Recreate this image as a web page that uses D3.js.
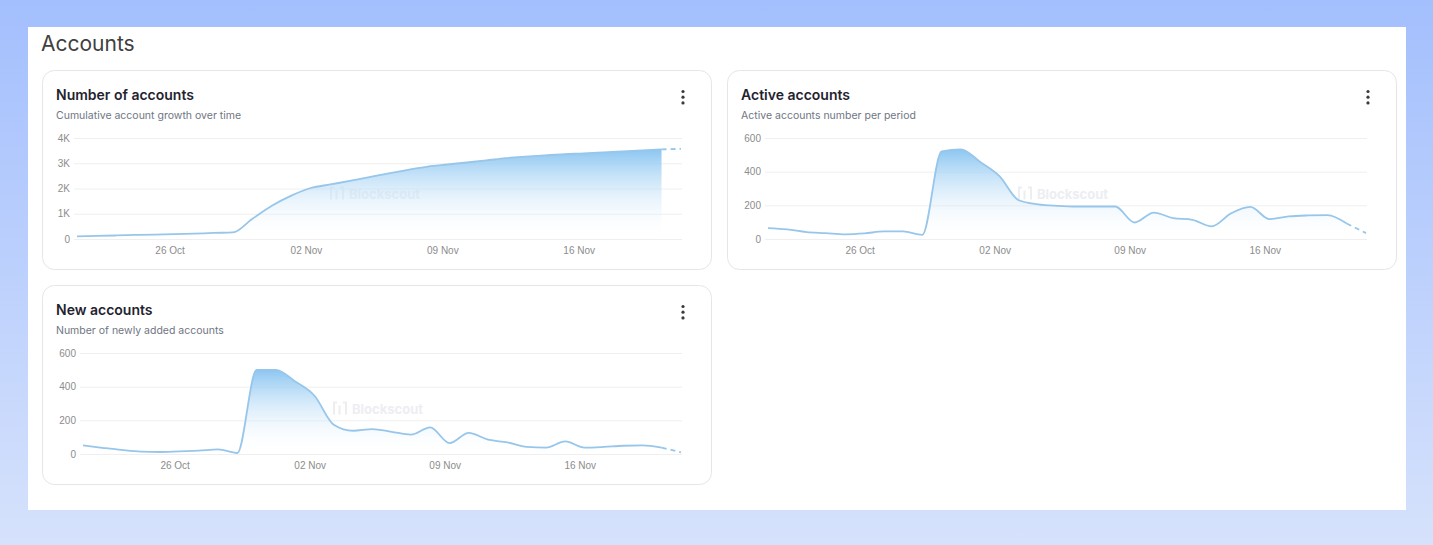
<!DOCTYPE html>
<html>
<head>
<meta charset="utf-8">
<script src="https://cdn.jsdelivr.net/npm/d3@7"></script>
<style>
  body { margin: 0; overflow: hidden; }
  text { font-family: Inter, "Noto Sans", sans-serif; }
  .axis text { font-family: "Liberation Sans", Arial, sans-serif; font-size: 10px; fill: #8c8c8c; }
</style>
</head>
<body>
<div id="chart"></div>
<script>
////////////////////  data //////////////////////////////

var dates = ["2023-10-21","2023-10-22","2023-10-23","2023-10-24","2023-10-25","2023-10-26",
  "2023-10-27","2023-10-28","2023-10-29","2023-10-30","2023-10-31","2023-11-01","2023-11-02",
  "2023-11-03","2023-11-04","2023-11-05","2023-11-06","2023-11-07","2023-11-08","2023-11-09",
  "2023-11-10","2023-11-11","2023-11-12","2023-11-13","2023-11-14","2023-11-15","2023-11-16",
  "2023-11-17","2023-11-18","2023-11-19","2023-11-20","2023-11-21"];

var totalAccounts = [100,120,140,160,175,190,210,240,260,800,1320,1720,2020,2160,2300,2450,
  2600,2740,2870,2950,3030,3110,3200,3260,3310,3360,3390,3430,3470,3510,3550,3570];

var activeAccounts = [65,57,41,35,28,33,45,45,25,520,533,458,374,230,206,197,
  193,193,193,98,157,124,114,75,152,191,118,134,140,142,92,35];

var newAccounts = [51,37,24,14,12,16,20,27,6,500,500,431,346,174,138,148,
  132,115,158,65,125,85,69,42,38,75,38,42,49,51,38,10];

var xTickDates = ["2023-10-26","2023-11-02","2023-11-09","2023-11-16"];
var countTicks = [0,1000,2000,3000,4000];
var smallTicks = [0,200,400,600];

// the source puts its daily points a few hours after midnight
var parsePoint = d3.timeParse("%Y-%m-%dT%H");
var parseDay = d3.timeParse("%Y-%m-%d");
var pointDates = dates.map(d => parsePoint(d + "T06"));
var tickDates = xTickDates.map(parseDay);

//////////////////////////////// page ////////////////////////////////////////

var svgWidth = 1433, svgHeight = 545;
var svg = d3.select("#chart").append("svg")
  .attr("width", svgWidth).attr("height", svgHeight);
var defs = svg.append("defs");

var bg = defs.append("linearGradient").attr("id", "bg")
  .attr("x1", 0).attr("y1", 0).attr("x2", 0).attr("y2", 1);
bg.append("stop").attr("offset", "0%").attr("stop-color", "#a3bffd");
bg.append("stop").attr("offset", "100%").attr("stop-color", "#d6e2fc");

svg.append("rect").attr("width", svgWidth).attr("height", svgHeight).attr("fill", "url(#bg)");
svg.append("rect").attr("x", 28).attr("y", 27).attr("width", 1378).attr("height", 483).attr("fill", "#fff");

svg.append("text")
  .attr("x", 41).attr("y", 50.5)
  .attr("font-size", 21).attr("font-weight", 400).attr("fill", "#404040")
  .text("Accounts");

//////////////////////////////// cards ////////////////////////////////////////

var cardW = 670, cardH = 200;
var plotTop = 68, plotBottom = 169, plotRightPad = 31;

var charts = [
  { id: "c1", title: "Number of accounts", sub: "Cumulative account growth over time",
    values: totalAccounts, ticks: countTicks, fmt: d => d === 0 ? "0" : (d / 1000) + "K",
    x: 42, y: 70, left: 35 },
  { id: "c2", title: "Active accounts", sub: "Active accounts number per period",
    values: activeAccounts, ticks: smallTicks, fmt: d3.format("d"),
    x: 727, y: 70, left: 41 },
  { id: "c3", title: "New accounts", sub: "Number of newly added accounts",
    values: newAccounts, ticks: smallTicks, fmt: d3.format("d"),
    x: 42, y: 285, left: 41 }
];

charts.forEach(function (c) {
  var g = svg.append("g").attr("transform", `translate(${c.x},${c.y})`);

  g.append("rect")
    .attr("x", 0.5).attr("y", 0.5).attr("width", cardW - 1).attr("height", cardH - 1)
    .attr("rx", 12).attr("fill", "#fff").attr("stroke", "#e6e6e6");

  g.append("text").attr("x", 14).attr("y", 30)
    .attr("font-size", 14).attr("font-weight", 600).attr("fill", "#1f2330")
    .text(c.title);
  g.append("text").attr("x", 14).attr("y", 49)
    .attr("font-size", 10.5).attr("fill", "#6f7683")
    .text(c.sub);

  // menu dots
  g.selectAll("circle.dot").data([21.5, 27.2, 32.9]).enter().append("circle")
    .attr("class", "dot").attr("cx", cardW - 29).attr("cy", d => d)
    .attr("r", 1.6).attr("fill", "#3a3a3a");

  var data = c.values.map((v, i) => ({ date: pointDates[i], v: v }));

  var xScale = d3.scaleTime()
    .domain(d3.extent(pointDates))
    .range([c.left, cardW - plotRightPad]);
  var yScale = d3.scaleLinear()
    .domain([0, d3.max(c.ticks)])
    .range([plotBottom, plotTop]);

  // y axis + grid
  var yAxis = d3.axisLeft(yScale).tickValues(c.ticks).tickFormat(c.fmt)
    .tickSize(-(cardW - plotRightPad - c.left + 4)).tickPadding(7);
  var yg = g.append("g").attr("class", "axis")
    .attr("transform", `translate(${c.left - 3},0)`).call(yAxis);
  yg.select(".domain").remove();
  yg.selectAll("line").attr("stroke", "#efefef");
  yg.selectAll("text").attr("x", -4);

  // x axis
  var xAxis = d3.axisBottom(xScale).tickValues(tickDates)
    .tickFormat(d3.timeFormat("%d %b")).tickSize(0).tickPadding(8);
  var xg = g.append("g").attr("class", "axis")
    .attr("transform", `translate(0,${plotBottom})`).call(xAxis);
  xg.select(".domain").remove();

  // watermark
  var wm = g.append("g")
    .attr("transform", `translate(${(c.left + cardW - plotRightPad) / 2 - 4},${(plotTop + plotBottom) / 2 + 5})`)
    .attr("fill", "#eceef2");
  wm.append("path").attr("d", "M-45,-7h4v2h-2v11h-2z M-35,-7h4v13h-2v-11h-2z M-39.5,-3h2v9h-2z");
  wm.append("text").attr("x", -26).attr("y", 5)
    .attr("font-size", 13).attr("font-weight", 700).text("Blockscout");

  // area gradient
  var grad = defs.append("linearGradient").attr("id", "fill-" + c.id)
    .attr("x1", 0).attr("y1", 0).attr("x2", 0).attr("y2", 1);
  grad.append("stop").attr("offset", "0%").attr("stop-color", "#8cc6f1").attr("stop-opacity", 1);
  grad.append("stop").attr("offset", "100%").attr("stop-color", "#ffffff").attr("stop-opacity", 0);

  var solid = data.slice(0, data.length - 1);
  var tail = data.slice(data.length - 2);

  var area = d3.area().curve(d3.curveMonotoneX)
    .x(d => xScale(d.date)).y0(yScale(0)).y1(d => yScale(d.v));
  var line = d3.line().curve(d3.curveMonotoneX)
    .x(d => xScale(d.date)).y(d => yScale(d.v));

  g.append("path").datum(solid).attr("d", area).attr("fill", `url(#fill-${c.id})`);
  g.append("path").datum(solid).attr("d", line)
    .attr("fill", "none").attr("stroke", "#97c6ea").attr("stroke-width", 1.8);
  g.append("path").datum(tail).attr("d", line)
    .attr("fill", "none").attr("stroke", "#97c6ea").attr("stroke-width", 1.8)
    .attr("stroke-dasharray", "5,4");
});
</script>
</body>
</html>
